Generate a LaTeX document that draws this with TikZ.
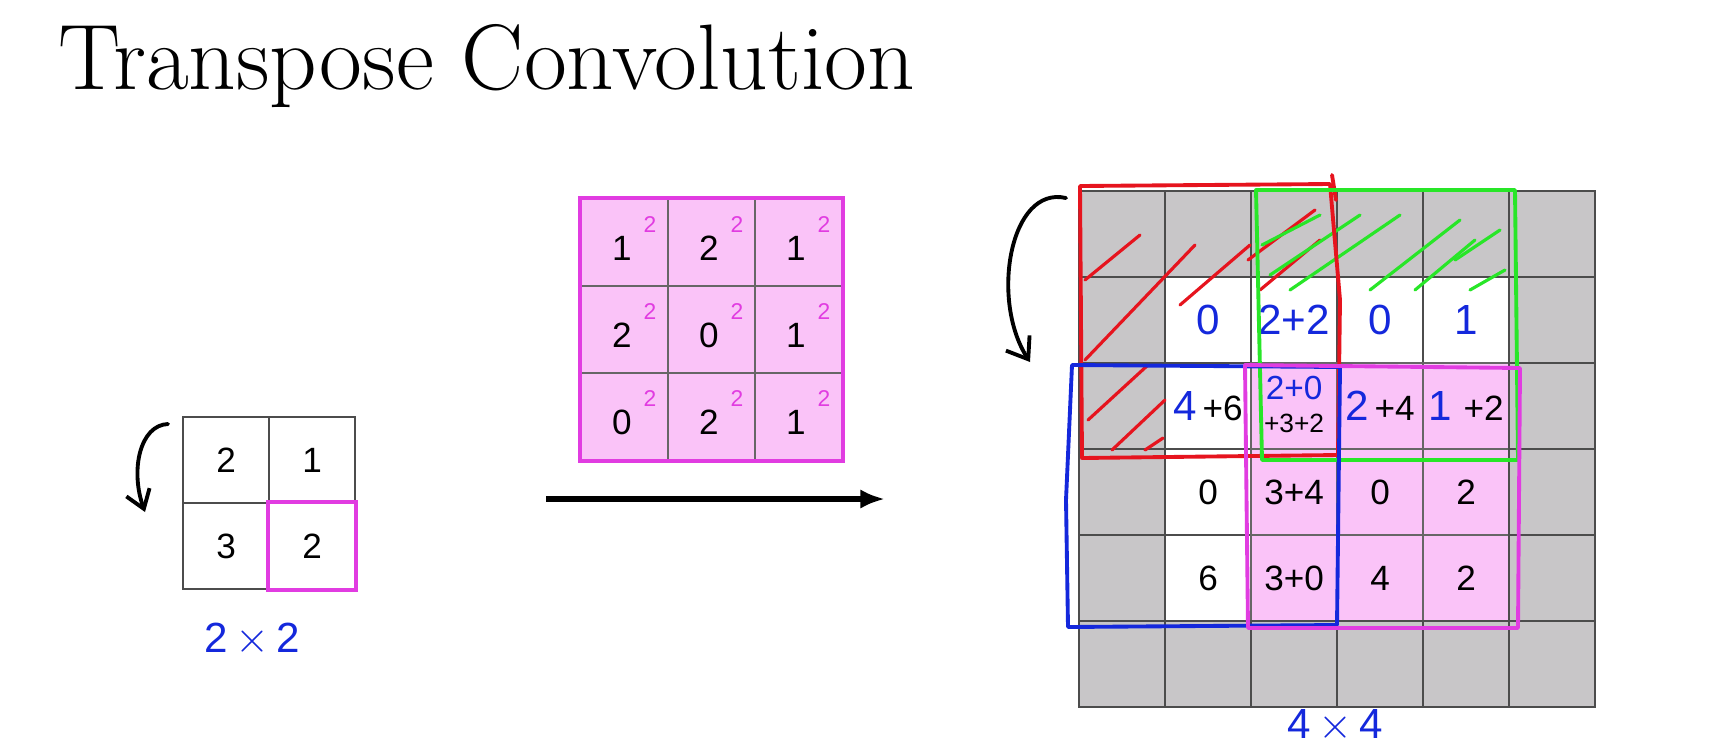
\documentclass[tikz,border=0pt]{standalone}
\usepackage{fontspec}
\setsansfont{Liberation Sans}
\usetikzlibrary{arrows.meta}
\definecolor{pinkfill}{RGB}{250,195,248}
\definecolor{mag}{RGB}{225,60,225}
\definecolor{hblue}{RGB}{20,40,220}
\definecolor{hred}{RGB}{230,20,30}
\definecolor{hgreen}{RGB}{40,230,40}
\definecolor{cgray}{RGB}{200,198,200}
\tikzset{
  cellw/.style={draw=black!70, line width=1.2pt, fill=white},
  cellg/.style={draw=black!70, line width=1.2pt, fill=cgray},
  cellp/.style={draw=black!60, line width=1.2pt, fill=pinkfill},
  num/.style={font=\sffamily\fontsize{20}{20}\selectfont},
  sup/.style={font=\sffamily\fontsize{13}{13}\selectfont, text=mag},
  hand/.style={font=\sffamily\fontsize{24}{24}\selectfont, text=hblue},
  pen/.style={line width=2.2pt, line cap=round, line join=round},
}
\begin{document}
\begin{tikzpicture}[x=0.02cm,y=-0.02cm]
\useasboundingbox (0,0) rectangle (1711,745);
\node[anchor=west, font=\fontsize{53}{53}\selectfont] (title) at (52,66) {Transpose Convolution};
% left 2x2
\foreach \c/\r/\v in {0/0/2,1/0/1,0/1/3,1/1/2}{
  \node[cellw, minimum size=0.02cm*86, inner sep=0, anchor=north west, num] (in\c\r) at (182+86*\c,416+86*\r) {\v};
}
\draw[mag, line width=2.2pt] (in11.north west) rectangle (in11.south east);
\coordinate (la1) at (168,424);
\coordinate (la2) at (145,512);
\draw[pen, -{Straight Barb[length=10pt,width=14pt]}] (la1) .. controls (140,425) and (130,470) .. (la2);
\node[hand] (lbl22) at (252,640) {2\,$\times$\,2};
% kernel 3x3
\foreach \c/\r/\v in {0/0/1,1/0/2,2/0/1,0/1/2,1/1/0,2/1/1,0/2/0,1/2/2,2/2/1}{
  \node[cellp, minimum size=0.02cm*87, inner sep=0, anchor=north west] (k\c\r) at (580+87*\c,198+87*\r) {};
  \node[num] at (580+87*\c+42,198+87*\r+50) {\v};
  \node[sup] at (580+87*\c+70,198+87*\r+27) {2};
}
\draw[mag, line width=2.2pt] (k00.north west) rectangle (k22.south east);
\coordinate (a1) at (546,499);
\coordinate (a2) at (885,499);
\draw[line width=3pt, -{Latex[length=14pt,width=11pt]}] (a1) -- (a2);
% right 6x6
\foreach \c in {0,...,5}{
  \foreach \r in {0,...,5}{
    \pgfmathtruncatemacro{\inner}{(\c>0)&&(\c<5)&&(\r>0)&&(\r<5)}
    \pgfmathtruncatemacro{\pk}{(\c>1)&&(\r>1)&&(\c<5)&&(\r<5)}
    \ifnum\pk=1
      \node[cellp, minimum size=0.02cm*86, inner sep=0, anchor=north west] (g\c\r) at (1078+86*\c,190+86*\r) {};
    \else\ifnum\inner=1
      \node[cellw, minimum size=0.02cm*86, inner sep=0, anchor=north west] (g\c\r) at (1078+86*\c,190+86*\r) {};
    \else
      \node[cellg, minimum size=0.02cm*86, inner sep=0, anchor=north west] (g\c\r) at (1078+86*\c,190+86*\r) {};
    \fi\fi
  }
}
% texts
\node[hand] at (g11) {0};
\node[hand] at (g21) {2+2};
\node[hand] at (g31) {0};
\node[hand] at (g41) {1};
\node[num] at (g12) {\textcolor{hblue}{\fontsize{24}{24}\selectfont 4}\,+6};
\node[font=\sffamily\fontsize{19}{19}\selectfont, text=hblue, yshift=10pt] at (g22) {2+0};
\node[font=\sffamily\fontsize{15}{15}\selectfont, yshift=-10pt] at (g22) {+3+2};
\node[num] at (g32) {\textcolor{hblue}{\fontsize{24}{24}\selectfont 2}\,+4};
\node[num] at (g42) {\textcolor{hblue}{\fontsize{24}{24}\selectfont 1}\,\,+2};
\node[num] at (g13) {0};
\node[num] at (g23) {3+4};
\node[num] at (g33) {0};
\node[num] at (g43) {2};
\node[num] at (g14) {6};
\node[num] at (g24) {3+0};
\node[num] at (g34) {4};
\node[num] at (g44) {2};
% hatching
\begin{scope}[hred, pen, line width=1.8pt]
\draw (1085,280) -- (1140,235); \draw (1085,360) -- (1195,245);
\draw (1180,305) -- (1250,245); \draw (1248,260) -- (1315,210);
\draw (1260,290) -- (1320,240);
\draw (1088,420) -- (1148,365); \draw (1112,450) -- (1165,400); \draw (1145,450) -- (1163,438);
\end{scope}
\begin{scope}[hgreen, pen, line width=1.8pt]
\draw (1262,245) -- (1320,215); \draw (1270,275) -- (1360,215);
\draw (1290,290) -- (1400,215); \draw (1370,290) -- (1460,220);
\draw (1415,290) -- (1475,240); \draw (1455,260) -- (1500,230); \draw (1470,290) -- (1505,270);
\end{scope}
% boxes
\draw[hred, pen] (1080,186) -- (1330,184) -- (1340,300) -- (1338,455) -- (1082,458) -- cycle;
\draw[hred, pen] (1332,175) -- (1336,200);
\draw[hgreen, pen] (1256,190) -- (1515,190) -- (1518,460) -- (1262,460) -- cycle;
\draw[hblue, pen] (1072,365) -- (1340,367) -- (1337,625) -- (1068,627) -- (1066,500) -- cycle;
\draw[mag, pen] (1245,365) -- (1520,368) -- (1518,628) -- (1248,628) -- cycle;
% curved arrow
\coordinate (ra1) at (1066,198);
\coordinate (ra2) at (1030,362);
\draw[pen, -{Straight Barb[length=11pt,width=16pt]}] (ra1) .. controls (1010,185) and (990,300) .. (ra2);
\node[hand] (lbl44) at (1335,726) {4\,$\times$\,4};
\end{tikzpicture}
\end{document}
